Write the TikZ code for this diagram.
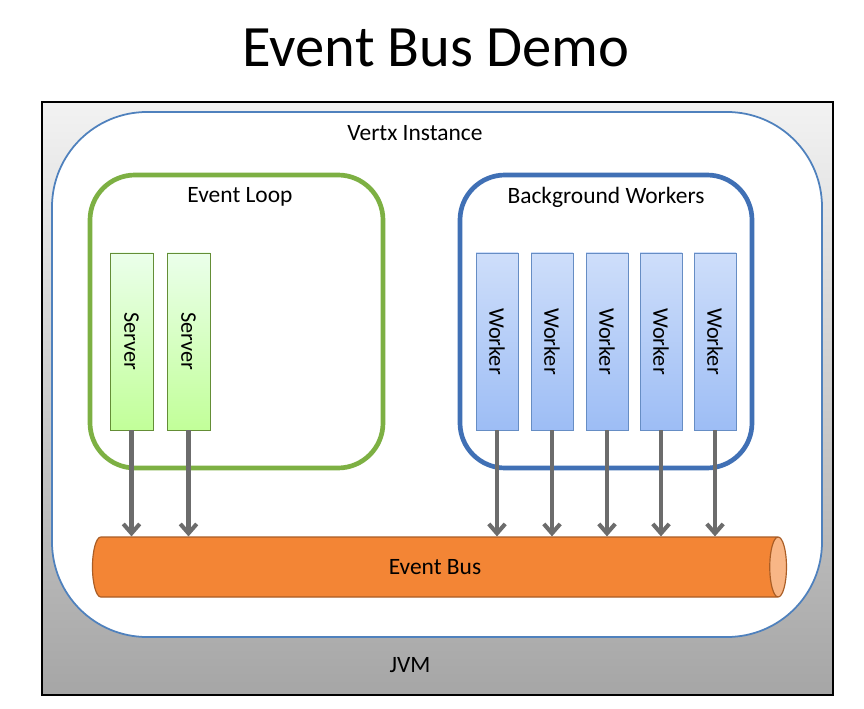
\documentclass[tikz,border=0pt]{standalone}
\usepackage{fontspec}
\setmainfont{Carlito}
\usetikzlibrary{positioning, calc, shapes.geometric, arrows.meta}
\definecolor{loopgreen}{HTML}{7DB043}
\definecolor{workblue}{HTML}{4070B5}
\definecolor{vxblue}{HTML}{4F81BD}
\definecolor{busorange}{HTML}{F38535}
\definecolor{workfill}{HTML}{9DBDF5}
\tikzstyle{Group} = [rounded corners=45*0.03cm, line width=4pt, fill=white]
\tikzstyle{Server} = [draw=loopgreen!80!black, top color=green!8!white, bottom color=green!60!yellow!40,
  minimum width=43*0.03cm, minimum height=177*0.03cm, font=\fontsize{19}{21}\selectfont]
\tikzstyle{Worker} = [draw=workblue!80, top color=workfill!50!white, bottom color=workfill,
  minimum width=42*0.03cm, minimum height=177*0.03cm, font=\fontsize{19}{21}\selectfont]
\tikzstyle{Arrow} = [draw=gray!85!black, line width=3.5pt, -{Straight Barb[length=8pt,width=14pt]}]
\tikzstyle{Label} = [font=\fontsize{20}{22}\selectfont]
\begin{document}
\begin{tikzpicture}[x=0.03cm, y=-0.03cm]
    \useasboundingbox (0,0) rectangle (864,709);
    \node (title) at (436,48) {\fontsize{50}{56}\selectfont Event Bus Demo};
    % JVM and Vertx instance
    \draw[line width=1.2pt, top color=gray!10, bottom color=gray!70] (42,102) rectangle (833,695);
    \node[Label] (jvm) at (410,665) {JVM};
    \draw[draw=vxblue, line width=1.5pt, fill=white, rounded corners=95*0.03cm] (52,112) rectangle (822,637);
    \node[Label] (vertx) at (415,133) {Vertx Instance};
    % groups
    \draw[Group, draw=loopgreen] (90,175) rectangle (383,468);
    \node[Label] (loop) at (240,197) {Event Loop};
    \draw[Group, draw=workblue] (460,175) rectangle (752,468);
    \node[Label] (bg) at (606,197) {Background Workers};
    % bus
    \node[cylinder, shape aspect=1.1, draw=busorange!70!black, line width=1pt,
        cylinder uses custom fill, cylinder body fill=busorange, cylinder end fill=busorange!60!white,
        minimum height=694*0.03cm, minimum width=60*0.03cm, inner sep=0pt,
        font=\fontsize{20}{22}\selectfont] (bus) at (435,567) {Event Bus};
    % servers and workers
    \foreach \x [count=\i] in {131.5,188.5} {
        \node[Server] (s\i) at (\x,341.5) {\rotatebox{-90}{Server}};
        \draw[Arrow] (s\i.south) -- (s\i |- bus.north);
    }
    \foreach \x [count=\i] in {497,552,607,661,715} {
        \node[Worker] (w\i) at (\x,341.5) {\rotatebox{-90}{Worker}};
        \draw[Arrow] (w\i.south) -- (w\i |- bus.north);
    }
\end{tikzpicture}
\end{document}
